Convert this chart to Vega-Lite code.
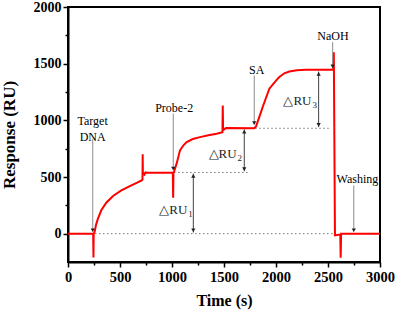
{
  "$schema": "https://vega.github.io/schema/vega-lite/v6.json",
  "autosize": "none",
  "width": 312,
  "height": 255,
  "padding": {"left": 68, "top": 7, "right": 16, "bottom": 49},
  "background": "white",
  "config": {
    "view": {"stroke": "black", "strokeWidth": 2},
    "font": "Liberation Serif"
  },
  "encoding": {
    "x": {
      "field": "x", "type": "quantitative",
      "scale": {"domain": [0, 3000], "nice": false, "zero": false},
      "axis": {
        "title": "Time (s)",
        "values": [0, 250, 500, 750, 1000, 1250, 1500, 1750, 2000, 2250, 2500, 2750, 3000],
        "labelExpr": "datum.value % 500 === 0 ? datum.label : ''",
        "format": "d",
        "grid": false,
        "domainColor": "black", "domainWidth": 2,
        "tickColor": "black", "tickWidth": 1.5,
        "tickSize": {"condition": {"test": "datum.value % 500 === 0", "value": 5}, "value": 3},
        "labelFont": "Liberation Serif", "labelFontWeight": "bold", "labelFontSize": 14.5, "labelColor": "black",
        "labelPadding": 3, "labelFlush": false, "labelOverlap": false,
        "titleFont": "Liberation Serif", "titleFontWeight": "bold", "titleFontSize": 16, "titleColor": "black",
        "titlePadding": 9
      }
    },
    "y": {
      "field": "y", "type": "quantitative",
      "scale": {"domain": [-250, 2000], "nice": false, "zero": false},
      "axis": {
        "title": "Response (RU)",
        "values": [0, 250, 500, 750, 1000, 1250, 1500, 1750, 2000],
        "labelExpr": "datum.value % 500 === 0 ? datum.label : ''",
        "format": "d",
        "grid": false,
        "domainColor": "black", "domainWidth": 2,
        "tickColor": "black", "tickWidth": 1.5,
        "tickSize": {"condition": {"test": "datum.value % 500 === 0", "value": 5}, "value": 3},
        "labelFont": "Liberation Serif", "labelFontWeight": "bold", "labelFontSize": 14, "labelColor": "black",
        "labelPadding": 2, "labelFlush": false, "labelOverlap": false,
        "titleFont": "Liberation Serif", "titleFontWeight": "bold", "titleFontSize": 17, "titleColor": "black",
        "titleX": -59, "titleBaseline": "middle"
      }
    }
  },
  "layer": [
    {
      "data": {"values": [
        {"x": 260, "x2": 2560, "y": 0},
        {"x": 1020, "x2": 1743, "y": 540},
        {"x": 1800, "x2": 2530, "y": 930}
      ]},
      "mark": {"type": "rule", "color": "#777", "strokeDash": [1.5, 2.5], "strokeWidth": 1},
      "encoding": {"x2": {"field": "x2"}}
    },
    {
      "data": {"values": [
        {"i": 0, "x": 0, "y": 0},
        {"i": 1, "x": 242, "y": 0},
        {"i": 2, "x": 245, "y": -210},
        {"i": 3, "x": 247, "y": 0},
        {"i": 4, "x": 256, "y": 15},
        {"i": 5, "x": 270, "y": 80},
        {"i": 6, "x": 288, "y": 132},
        {"i": 7, "x": 320, "y": 206},
        {"i": 8, "x": 368, "y": 273},
        {"i": 9, "x": 433, "y": 332},
        {"i": 10, "x": 513, "y": 382},
        {"i": 11, "x": 609, "y": 426},
        {"i": 12, "x": 665, "y": 450},
        {"i": 13, "x": 712, "y": 472},
        {"i": 14, "x": 716, "y": 476},
        {"i": 15, "x": 718, "y": 700},
        {"i": 16, "x": 720, "y": 535},
        {"i": 17, "x": 735, "y": 522},
        {"i": 18, "x": 745, "y": 540},
        {"i": 19, "x": 760, "y": 537},
        {"i": 20, "x": 1008, "y": 538},
        {"i": 21, "x": 1011, "y": 317},
        {"i": 22, "x": 1014, "y": 540},
        {"i": 23, "x": 1020, "y": 548},
        {"i": 24, "x": 1045, "y": 620},
        {"i": 25, "x": 1077, "y": 735},
        {"i": 26, "x": 1110, "y": 780},
        {"i": 27, "x": 1141, "y": 808},
        {"i": 28, "x": 1200, "y": 835},
        {"i": 29, "x": 1269, "y": 852},
        {"i": 30, "x": 1350, "y": 868},
        {"i": 31, "x": 1429, "y": 882},
        {"i": 32, "x": 1485, "y": 896},
        {"i": 33, "x": 1488, "y": 1131},
        {"i": 34, "x": 1491, "y": 930},
        {"i": 35, "x": 1500, "y": 918},
        {"i": 36, "x": 1520, "y": 932},
        {"i": 37, "x": 1790, "y": 930},
        {"i": 38, "x": 1808, "y": 946},
        {"i": 39, "x": 1840, "y": 1030},
        {"i": 40, "x": 1872, "y": 1118},
        {"i": 41, "x": 1936, "y": 1279},
        {"i": 42, "x": 2000, "y": 1350},
        {"i": 43, "x": 2032, "y": 1382},
        {"i": 44, "x": 2080, "y": 1415},
        {"i": 45, "x": 2128, "y": 1431},
        {"i": 46, "x": 2200, "y": 1442},
        {"i": 47, "x": 2288, "y": 1446},
        {"i": 48, "x": 2550, "y": 1446},
        {"i": 49, "x": 2556, "y": 1601},
        {"i": 50, "x": 2567, "y": -15},
        {"i": 51, "x": 2600, "y": -10},
        {"i": 52, "x": 2618, "y": -8},
        {"i": 53, "x": 2622, "y": -212},
        {"i": 54, "x": 2626, "y": 0},
        {"i": 55, "x": 2660, "y": 0},
        {"i": 56, "x": 3000, "y": 0}
      ]},
      "mark": {"type": "line", "color": "#ff0000", "strokeWidth": 2, "interpolate": "linear"},
      "encoding": {"order": {"field": "i", "type": "quantitative"}}
    },
    {
      "data": {"values": [
        {"x": 238, "y": 838, "y2": 20, "kind": "single"},
        {"x": 1012, "y": 1060, "y2": 565, "kind": "single"},
        {"x": 1791, "y": 1395, "y2": 966, "kind": "single"},
        {"x": 2545, "y": 1690, "y2": 1466, "kind": "single"},
        {"x": 2748, "y": 425, "y2": 20, "kind": "single"},
        {"x": 1205, "y": 530, "y2": 10, "kind": "double"},
        {"x": 1695, "y": 920, "y2": 550, "kind": "double"},
        {"x": 2410, "y": 1430, "y2": 940, "kind": "double"}
      ]},
      "mark": {"type": "rule", "strokeWidth": 1},
      "encoding": {
        "y2": {"field": "y2"},
        "color": {"field": "kind", "type": "nominal", "scale": {"domain": ["single", "double"], "range": ["#8c8c8c", "#404040"]}, "legend": null}
      }
    },
    {
      "data": {"values": [
        {"x": 238, "y": 30, "shape": "triangle-down"},
        {"x": 1012, "y": 575, "shape": "triangle-down"},
        {"x": 1791, "y": 976, "shape": "triangle-down"},
        {"x": 2545, "y": 1476, "shape": "triangle-down"},
        {"x": 2748, "y": 30, "shape": "triangle-down"},
        {"x": 1205, "y": 510, "shape": "triangle-up"},
        {"x": 1205, "y": 30, "shape": "triangle-down"},
        {"x": 1695, "y": 900, "shape": "triangle-up"},
        {"x": 1695, "y": 570, "shape": "triangle-down"},
        {"x": 2410, "y": 1410, "shape": "triangle-up"},
        {"x": 2410, "y": 960, "shape": "triangle-down"}
      ]},
      "mark": {"type": "point", "filled": true, "color": "#222", "size": 18, "opacity": 1},
      "encoding": {
        "shape": {"field": "shape", "type": "nominal", "scale": null}
      }
    },
    {
      "data": {"values": [
        {"x": 237, "y": 998, "label": "Target"},
        {"x": 237, "y": 852, "label": "DNA"},
        {"x": 1021, "y": 1110, "label": "Probe-2"},
        {"x": 1815, "y": 1440, "label": "SA"},
        {"x": 2548, "y": 1742, "label": "NaOH"},
        {"x": 2783, "y": 484, "label": "Washing"}
      ]},
      "mark": {"type": "text", "font": "Liberation Serif", "fontSize": 12, "color": "black", "align": "center", "baseline": "middle"},
      "encoding": {"text": {"field": "label"}}
    },
    {
      "data": {"values": [
        {"x": 878, "y": 205, "label": "△RU", "sub": "1"},
        {"x": 1352, "y": 699, "label": "△RU", "sub": "2"},
        {"x": 2071, "y": 1175, "label": "△RU", "sub": "3"}
      ]},
      "layer": [
        {
          "mark": {"type": "text", "font": "Liberation Serif", "fontSize": 13, "color": "#222", "align": "left", "baseline": "middle"},
          "encoding": {"text": {"field": "label"}}
        },
        {
          "mark": {"type": "text", "font": "Liberation Serif", "fontSize": 9, "color": "#222", "align": "left", "baseline": "middle", "dx": 29, "dy": 4},
          "encoding": {"text": {"field": "sub"}}
        }
      ]
    }
  ]
}
